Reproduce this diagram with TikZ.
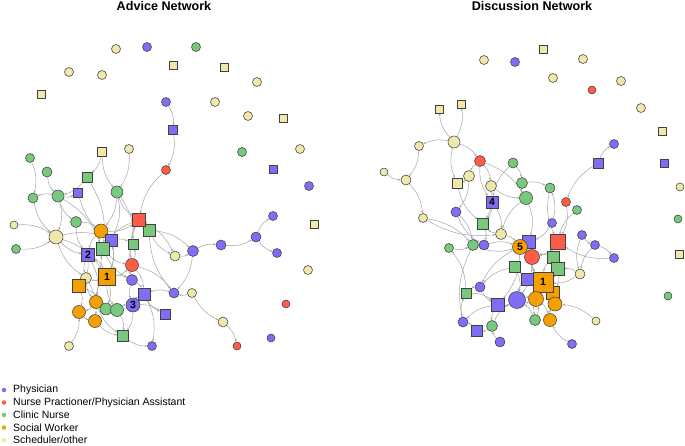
\documentclass[tikz,border=0pt]{standalone}
\usepackage{fontspec}
\setmainfont{Liberation Sans}
\usetikzlibrary{arrows.meta}
\definecolor{cPhy}{RGB}{125,110,245}
\definecolor{cNP}{RGB}{255,92,72}
\definecolor{cCN}{RGB}{120,200,125}
\definecolor{cSW}{RGB}{245,160,0}
\definecolor{cSch}{RGB}{240,232,170}
\definecolor{cEdge}{RGB}{165,165,165}
\pgfdeclarelayer{edges}
\pgfsetlayers{edges,main}
\tikzset{
  base/.style={draw=black!75, line width=0.55pt, inner sep=0pt, font=\fontsize{10.5}{10.5}\selectfont\bfseries},
  pc/.style={base,circle,fill=cPhy,minimum size=#1pt}, pc/.default=9,
  rc/.style={base,circle,fill=cNP,minimum size=#1pt}, rc/.default=9,
  gc/.style={base,circle,fill=cCN,minimum size=#1pt}, gc/.default=9,
  oc/.style={base,circle,fill=cSW,minimum size=#1pt}, oc/.default=9,
  yc/.style={base,circle,fill=cSch,minimum size=#1pt}, yc/.default=9,
  ps/.style={base,rectangle,fill=cPhy,minimum size=#1pt}, ps/.default=9,
  rs/.style={base,rectangle,fill=cNP,minimum size=#1pt}, rs/.default=9,
  gs/.style={base,rectangle,fill=cCN,minimum size=#1pt}, gs/.default=9,
  os/.style={base,rectangle,fill=cSW,minimum size=#1pt}, os/.default=9,
  ys/.style={base,rectangle,fill=cSch,minimum size=#1pt}, ys/.default=9,
  edge/.style={draw=cEdge, line width=0.5pt, -{Stealth[length=2.6pt,width=2.2pt]}},
  title/.style={font=\fontsize{12.6}{13}\selectfont\bfseries},
  legtext/.style={anchor=west, inner sep=0pt, font=\fontsize{10.5}{11}\selectfont},
  legdot/.style={circle, inner sep=0pt, minimum size=4.5pt}
}
\begin{document}
\begin{tikzpicture}[x=1pt,y=-1pt]
\useasboundingbox (0,0) rectangle (685,445);
\node[title] (t1) at (164,6) {Advice Network};
\node[title] (t2) at (532,6) {Discussion Network};
% ---------- Left network ----------
\node[yc] (L01) at (116,49) {};
\node[pc] (L02) at (147,47) {};
\node[gc] (L03) at (196,47) {};
\node[yc] (L04) at (69,72) {};
\node[yc] (L05) at (102,75) {};
\node[ys=8] (L06) at (173,65) {};
\node[ys=8] (L07) at (224,67) {};
\node[yc] (L08) at (257,82) {};
\node[ys=8] (L09) at (41,94) {};
\node[pc] (L10) at (166,102) {};
\node[yc] (L11) at (215,102) {};
\node[yc] (L12) at (248,116) {};
\node[ys=8] (L13) at (283,118) {};
\node[ps=9] (L14) at (173,130) {};
\node[rc] (L15) at (166,170) {};
\node[gc] (L16) at (242,152) {};
\node[yc] (L17) at (300,149) {};
\node[ps=8] (L18) at (273,169) {};
\node[pc] (L19) at (309,186) {};
\node[pc] (L20) at (273,216) {};
\node[ys=8] (L21) at (314,224) {};
\node[pc=10] (L22) at (256,237) {};
\node[pc] (L23) at (277,253) {};
\node[pc=10] (L24) at (221,245) {};
\node[pc=11] (L25) at (193,251) {};
\node[yc=10] (L26) at (175,256) {};
\node[yc] (L27) at (308,270) {};
\node[rc=8] (L28) at (286,304) {};
\node[pc=8] (L29) at (271,338) {};
\node[yc=10] (L30) at (223,322) {};
\node[rc=8] (L31) at (237,346) {};
\node[yc] (L32) at (192,293) {};
\node[pc=10] (L33) at (174,293) {};
\node[ps=10] (L34) at (165,314) {};
\node[ps=12] (L35) at (144,294) {};
\node[pc=14] (L36) at (133,305) {3};
\node[pc=11] (L37) at (132,280) {};
\node[rc=13] (L38) at (132,265) {};
\node[gs=10] (L39) at (133,244) {};
\node[gs=12] (L40) at (149,230) {};
\node[rs=13] (L41) at (139,220) {};
\node[gc=12] (L42) at (117,192) {};
\node[yc] (L43) at (129,149) {};
\node[ys=9] (L44) at (102,152) {};
\node[gs=10] (L45) at (87,177) {};
\node[ps=9] (L46) at (78,193) {};
\node[gc=12] (L47) at (58,196) {};
\node[gc=10] (L48) at (47,172) {};
\node[gc] (L49) at (30,158) {};
\node[gc=10] (L50) at (33,198) {};
\node[yc=8] (L51) at (14,225) {};
\node[gc] (L52) at (16,249) {};
\node[yc=14] (L53) at (56,237) {};
\node[gc=11] (L54) at (76,222) {};
\node[oc=14] (L55) at (101,231) {};
\node[ps=12] (L56) at (111,240) {};
\node[gs=13] (L57) at (103,249) {};
\node[ps=13] (L58) at (88,255) {2};
\node[os=17] (L59) at (107,277) {1};
\node[yc=11] (L60) at (86,278) {};
\node[os=13] (L61) at (79,286) {};
\node[oc=13] (L62) at (96,302) {};
\node[oc=13] (L63) at (79,312) {};
\node[oc=13] (L64) at (95,321) {};
\node[gc=12] (L65) at (106,309) {};
\node[gc=13] (L66) at (117,310) {};
\node[gs=11] (L67) at (123,336) {};
\node[pc] (L68) at (152,346) {};
\node[yc] (L69) at (69,346) {};
% ---------- Right network ----------
\node[yc] (R01) at (484,60) {};
\node[pc] (R02) at (515,62) {};
\node[ys=8] (R03) at (543,49) {};
\node[yc] (R04) at (583,59) {};
\node[yc] (R05) at (553,78) {};
\node[rc=8] (R06) at (592,90) {};
\node[yc] (R07) at (621,81) {};
\node[yc] (R08) at (641,108) {};
\node[ys=8] (R09) at (662,131) {};
\node[ys=8] (R10) at (439,109) {};
\node[ys=8] (R11) at (461,104) {};
\node[ps=8] (R12) at (664,163) {};
\node[yc=8] (R13) at (680,187) {};
\node[gc=8] (R14) at (678,219) {};
\node[ys=8] (R15) at (679,254) {};
\node[gc=8] (R16) at (668,296) {};
\node[pc] (R17) at (614,144) {};
\node[ps=10] (R18) at (598,163) {};
\node[rc] (R19) at (566,202) {};
\node[gc] (R20) at (577,210) {};
\node[pc] (R21) at (552,223) {};
\node[rs=15] (R22) at (558,242) {};
\node[pc] (R23) at (582,235) {};
\node[pc] (R24) at (595,245) {};
\node[pc] (R25) at (614,258) {};
\node[yc=10] (R26) at (580,274) {};
\node[yc=8] (R27) at (596,321) {};
\node[gs=12] (R28) at (553,257) {};
\node[gs=12.5] (R29) at (558,269) {};
\node[os=13] (R30) at (553,293) {};
\node[os=20] (R31) at (543,282) {1};
\node[oc=14] (R32) at (555,304) {};
\node[oc=15] (R33) at (536,299) {};
\node[oc=13] (R34) at (550,320) {};
\node[gc=11] (R35) at (535,320) {};
\node[pc] (R36) at (572,344) {};
\node[pc=17] (R37) at (517,300) {};
\node[ps=12] (R38) at (527,279) {};
\node[ps=13] (R39) at (498,305) {};
\node[pc=10] (R40) at (480,287) {};
\node[gs=10] (R41) at (466,293) {};
\node[pc=10] (R42) at (463,322) {};
\node[ps=11] (R43) at (477,331) {};
\node[gc=11] (R44) at (492,326) {};
\node[pc=10] (R45) at (500,342) {};
\node[gs=11] (R46) at (515,267) {};
\node[ps=13] (R49) at (529,242) {};
\node[rc=15] (R47) at (532,257) {};
\node[oc=15] (R48) at (520,247) {5};
\node[yc=11] (R50) at (501,234) {};
\node[pc=10] (R51) at (484,245) {};
\node[gc=11] (R52) at (473,245) {};
\node[gc=9] (R53) at (449,248) {};
\node[gs=11] (R54) at (483,224) {};
\node[pc=10] (R55) at (456,212) {};
\node[ps=12] (R56) at (492,202) {4};
\node[yc=11] (R57) at (491,186) {};
\node[yc=11] (R58) at (469,176) {};
\node[rc=11] (R59) at (480,161) {};
\node[ys=10] (R60) at (457,183) {};
\node[gc=10] (R61) at (513,163) {};
\node[gc=11] (R62) at (522,183) {};
\node[gc=13] (R63) at (526,198) {};
\node[gc=10] (R64) at (550,188) {};
\node[yc=9] (R65) at (423,218) {};
\node[yc=10] (R66) at (406,180) {};
\node[yc=8] (R67) at (384,172) {};
\node[yc=9] (R68) at (419,146) {};
\node[yc=12] (R69) at (454,142) {};
% ---------- Edges ----------
\begin{pgfonlayer}{edges}
\foreach \a/\b in {L10/L14, L14/L15, L44/L45, L43/L42, L42/L55, L49/L50, L47/L53,
  L45/L47, L51/L53, L53/L59, L54/L55, L41/L40, L40/L25, L25/L24, L22/L20,
  L25/L33, L32/L33, L30/L31, L36/L35, L39/L41, L59/L37, L59/L65, L59/L57,
  L59/L60, L61/L63, L62/L63, L66/L67, L36/L67, L35/L68, L38/L35, L58/L61,
  L60/L61, L56/L39, L42/L56, L47/L57, L65/L62, L66/L36, L53/L56,
  L42/L39, L56/L59, L58/L62, L61/L65, L37/L35, L41/L26, L36/L34, L45/L57,
  L60/L64, L38/L33}
  \draw[edge] (\a) to[bend left=18] (\b);
\foreach \a/\b in {L15/L41, L44/L42, L42/L41, L48/L47, L47/L50, L50/L53, L47/L46,
  L47/L54, L52/L53, L53/L58, L53/L60, L46/L56, L55/L57, L40/L26, L26/L25,
  L24/L22, L22/L23, L33/L35, L32/L30, L35/L34, L38/L39, L59/L38, L59/L62,
  L59/L66, L59/L58, L59/L56, L63/L64, L64/L67, L67/L68, L69/L63, L37/L36,
  L40/L33, L60/L62, L57/L38, L55/L58, L41/L38, L62/L66, L55/L41,
  L41/L57, L57/L37, L62/L67, L65/L66, L39/L37, L58/L60, L54/L58, L66/L35}
  \draw[edge] (\a) to[bend right=18] (\b);
\foreach \a/\b in {R69/R10, R68/R66, R66/R65, R69/R59, R59/R57, R58/R55,
  R56/R54, R62/R64, R63/R49, R18/R17, R19/R22, R21/R49, R24/R25, R26/R31,
  R36/R34, R29/R31, R48/R47, R50/R48, R51/R48, R54/R51, R38/R31, R37/R39,
  R44/R43, R42/R41, R45/R44, R34/R32, R31/R32, R31/R37, R55/R52, R57/R54,
  R25/R22, R61/R62, R59/R63, R65/R52, R41/R39,
  R48/R39, R47/R37, R50/R54, R56/R50, R58/R60, R22/R47, R46/R37, R33/R34,
  R44/R37, R41/R40, R29/R30}
  \draw[edge] (\a) to[bend left=18] (\b);
\foreach \a/\b in {R69/R11, R69/R68, R67/R66, R65/R50, R69/R60, R59/R58,
  R59/R56, R60/R54, R61/R56, R63/R50, R64/R22, R18/R19, R20/R22, R23/R24,
  R23/R26, R27/R32, R28/R31, R47/R31, R49/R48, R52/R48, R53/R52, R46/R31,
  R37/R33, R39/R44, R43/R42, R40/R39, R35/R33, R31/R33, R31/R35, R46/R40,
  R41/R53, R62/R63, R22/R28, R21/R64, R52/R42, R26/R29,
  R48/R40, R49/R31, R57/R63, R28/R47, R38/R37, R35/R37, R39/R42, R24/R26,
  R30/R32, R55/R51}
  \draw[edge] (\a) to[bend right=18] (\b);
\end{pgfonlayer}
% ---------- Legend ----------
\node[legdot, fill=cPhy] (d1) at (4,390) {};
\node[legdot, fill=cNP] (d2) at (4,402.5) {};
\node[legdot, fill=cCN] (d3) at (4,415) {};
\node[legdot, fill=cSW] (d4) at (4,427.5) {};
\node[legdot, fill=cSch] (d5) at (4,440) {};
\node[legtext] (g1) at (13,390) {Physician};
\node[legtext] (g2) at (13,402.5) {Nurse Practioner/Physician Assistant};
\node[legtext] (g3) at (13,415) {Clinic Nurse};
\node[legtext] (g4) at (13,427.5) {Social Worker};
\node[legtext] (g5) at (13,440) {Scheduler/other};
\end{tikzpicture}
\end{document}
